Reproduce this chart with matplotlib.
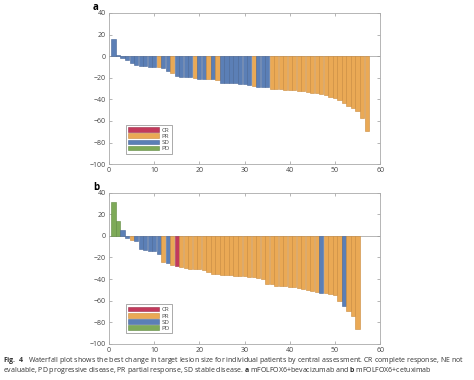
import matplotlib
matplotlib.use('Agg')
import matplotlib.pyplot as plt
from matplotlib.patches import Patch

# response colours
colors = {'CR': '#c23a5c', 'PR': '#eaa955', 'SD': '#5b7fb6', 'PD': '#7eaa58'}
edges = {'CR': '#9c2c48', 'PR': '#c98a3c', 'SD': '#476596', 'PD': '#5f8a40'}

# panel a: mFOLFOX6 + bevacizumab
change_a = [16, 1, -2, -4, -6, -8, -9, -9, -10, -10,
            -10, -11, -14, -16, -18, -19, -19, -19, -20, -21,
            -21, -21, -21, -22, -25, -25, -25, -25, -26, -26,
            -27, -28, -29, -29, -29, -30, -30, -30, -31, -31,
            -31, -32, -32, -33, -34, -34, -35, -36, -38, -39,
            -41, -43, -46, -48, -51, -57, -69]
resp_a = (['SD'] * 10 + ['PR'] + ['SD'] * 2 + ['PR'] + ['SD'] * 4 + ['PR']
          + ['SD'] * 2 + ['PR'] + ['SD'] + ['PR'] + ['SD'] * 7 + ['PR']
          + ['SD'] * 3 + ['PR'] * 22)

# panel b: mFOLFOX6 + cetuximab
change_b = [31, 14, 5, -2, -4, -5, -12, -13, -14, -14,
            -17, -24, -25, -27, -28, -29, -30, -31, -31, -31,
            -32, -33, -35, -35, -36, -36, -36, -37, -37, -37,
            -38, -38, -39, -40, -45, -45, -46, -46, -46, -47,
            -47, -48, -49, -50, -51, -52, -53, -53, -54, -55,
            -60, -65, -70, -74, -86]
resp_b = (['PD'] * 2 + ['SD'] * 2 + ['PR'] + ['SD'] * 6 + ['PR'] + ['SD']
          + ['PR'] + ['CR'] + ['PR'] * 31 + ['SD'] + ['PR'] * 4 + ['SD']
          + ['PR'] * 3)

legend_labels = ['CR', 'PR', 'SD', 'PD']
yticks = [40, 20, 0, -20, -40, -60, -80, -100]
xticks = [0, 10, 20, 30, 40, 50, 60]

plt.rcParams['font.family'] = ['Open Sans', 'DejaVu Sans']
plt.rcParams['mathtext.fontset'] = 'custom'
plt.rcParams['mathtext.rm'] = 'Open Sans'
plt.rcParams['mathtext.bf'] = 'Open Sans:bold'

fig = plt.figure(figsize=(4.74, 3.80), dpi=100)
ax_a = fig.add_axes([0.230, 0.568, 0.572, 0.398])
ax_b = fig.add_axes([0.230, 0.095, 0.572, 0.398])


def waterfall(ax, values, resp, tag):
    xs = range(1, len(values) + 1)
    ax.bar(xs, values, width=0.92, color=[colors[r] for r in resp],
           edgecolor=[edges[r] for r in resp], linewidth=0.4, zorder=2)
    ax.axhline(0, color='#aaaaaa', linewidth=0.6, zorder=1)
    ax.set_xlim(0, 60)
    ax.set_ylim(-100, 40)
    ax.set_xticks(xticks)
    ax.set_yticks(yticks)
    ax.set_yticklabels([str(t).replace('-', '\u2212') for t in yticks])
    ax.tick_params(direction='in', length=2.5, width=0.5, color='#999999',
                   labelsize=5, labelcolor='#444444', pad=2,
                   top=True, right=True)
    for s in ax.spines.values():
        s.set_color('#aaaaaa')
        s.set_linewidth(0.6)
    handles = [Patch(facecolor=colors[k], edgecolor=edges[k], linewidth=0.4, label=k)
               for k in legend_labels]
    leg = ax.legend(handles=handles, loc='lower left', bbox_to_anchor=(0.05, 0.05),
                    fontsize=4.4, handlelength=5.0, handleheight=0.7,
                    labelspacing=0.12, handletextpad=0.4, borderpad=0.45,
                    fancybox=False, framealpha=1, edgecolor='#888888')
    leg.get_frame().set_linewidth(0.5)
    for t in leg.get_texts():
        t.set_color('#444444')
    ax.text(-0.06, 1.0, tag, transform=ax.transAxes, fontsize=7,
            fontweight='bold', ha='left', va='bottom')


waterfall(ax_a, change_a, resp_a, 'a')
waterfall(ax_b, change_b, resp_b, 'b')

fig.text(0.007, 0.052,
         r'$\mathbf{Fig.\ 4}$   Waterfall plot shows the best change in target lesion size '
         'for individual patients by central assessment. CR complete response, NE not',
         fontsize=5.0, color='#333333', ha='left', va='center')
fig.text(0.007, 0.024,
         r'evaluable, PD progressive disease, PR partial response, SD stable disease. '
         r'$\mathbf{a}$ mFOLFOX6+bevacizumab and $\mathbf{b}$ mFOLFOX6+cetuximab',
         fontsize=5.0, color='#333333', ha='left', va='center')

fig.savefig('out.png', dpi=100)
